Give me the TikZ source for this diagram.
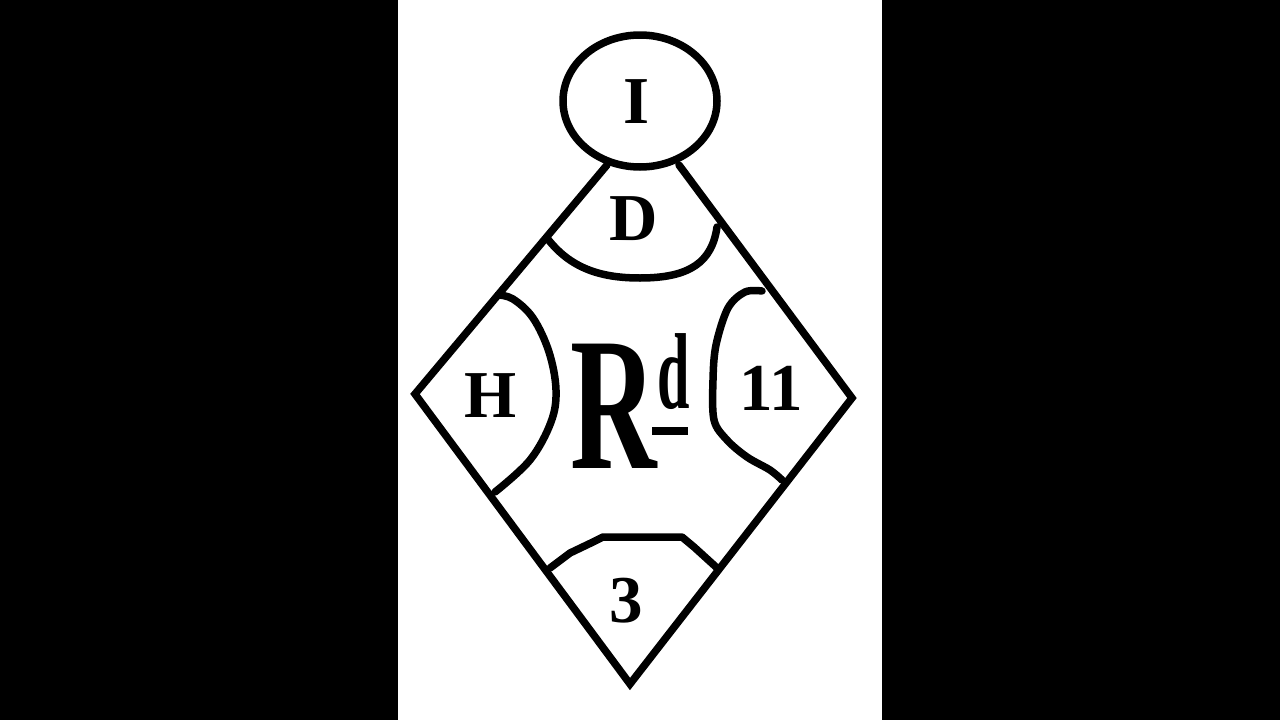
\documentclass[tikz,border=0pt]{standalone}
\usepackage{fontspec}
\setmainfont{Liberation Serif}
\begin{document}
\begin{tikzpicture}[x=1pt,y=-1pt,
  line/.style={line width=7.5pt,line join=round,line cap=round},
  lbl/.style={inner sep=0pt,anchor=base,font=\bfseries\fontsize{67}{67}\selectfont}]
\useasboundingbox (0,0) rectangle (1280,720);
\fill[white] (398,0) rectangle (882,720);
\fill[black] (0,0) rectangle (398,720);
\fill[black] (882,0) rectangle (1280,720);
% top circle
\draw[line] (640,101) ellipse [x radius=77, y radius=66];
% diamond
\draw[line,line join=miter] (607,165) -- (415,394) -- (630,684) -- (852,398) -- (679,165);
% D arc
\draw[line] (547,238) .. controls (570,268) and (600,278) .. (640,278) .. controls (690,278) and (712,262) .. (717,227);
% H arc
\draw[line] plot[smooth,tension=0.6] coordinates {(498,295) (513,299) (533,318) (549,352) (556,390) (551,422) (530,460) (495,492)};
% 11 arc
\draw[line] plot[smooth,tension=0.55] coordinates {(762,291) (745,292) (728,308) (716,345) (713,380) (714,420) (727,440) (747,457) (770,470) (782,480)};
% 3 cap
\draw[line] (550,568) -- (570,553) -- (593,542) -- (603,537) -- (682,537) -- (694,547) -- (716,567);
% labels
\node[lbl] (i) at (637,123) {I};
\node[lbl] (d) at (634,240) {D};
\node[lbl] (h) at (491,417) {H};
\node[lbl] (e) at (771,410) {11};
\node[lbl] (t) at (626,622) {3};
\node[inner sep=0pt,anchor=base,xscale=0.63,font=\bfseries\fontsize{190}{190}\selectfont] (r) at (614,468) {R};
\node[inner sep=0pt,anchor=base,xscale=0.54,font=\bfseries\fontsize{108}{108}\selectfont] (sd) at (674,408) {d};
\fill[black] (652,427) rectangle (688,435);
\end{tikzpicture}
\end{document}
